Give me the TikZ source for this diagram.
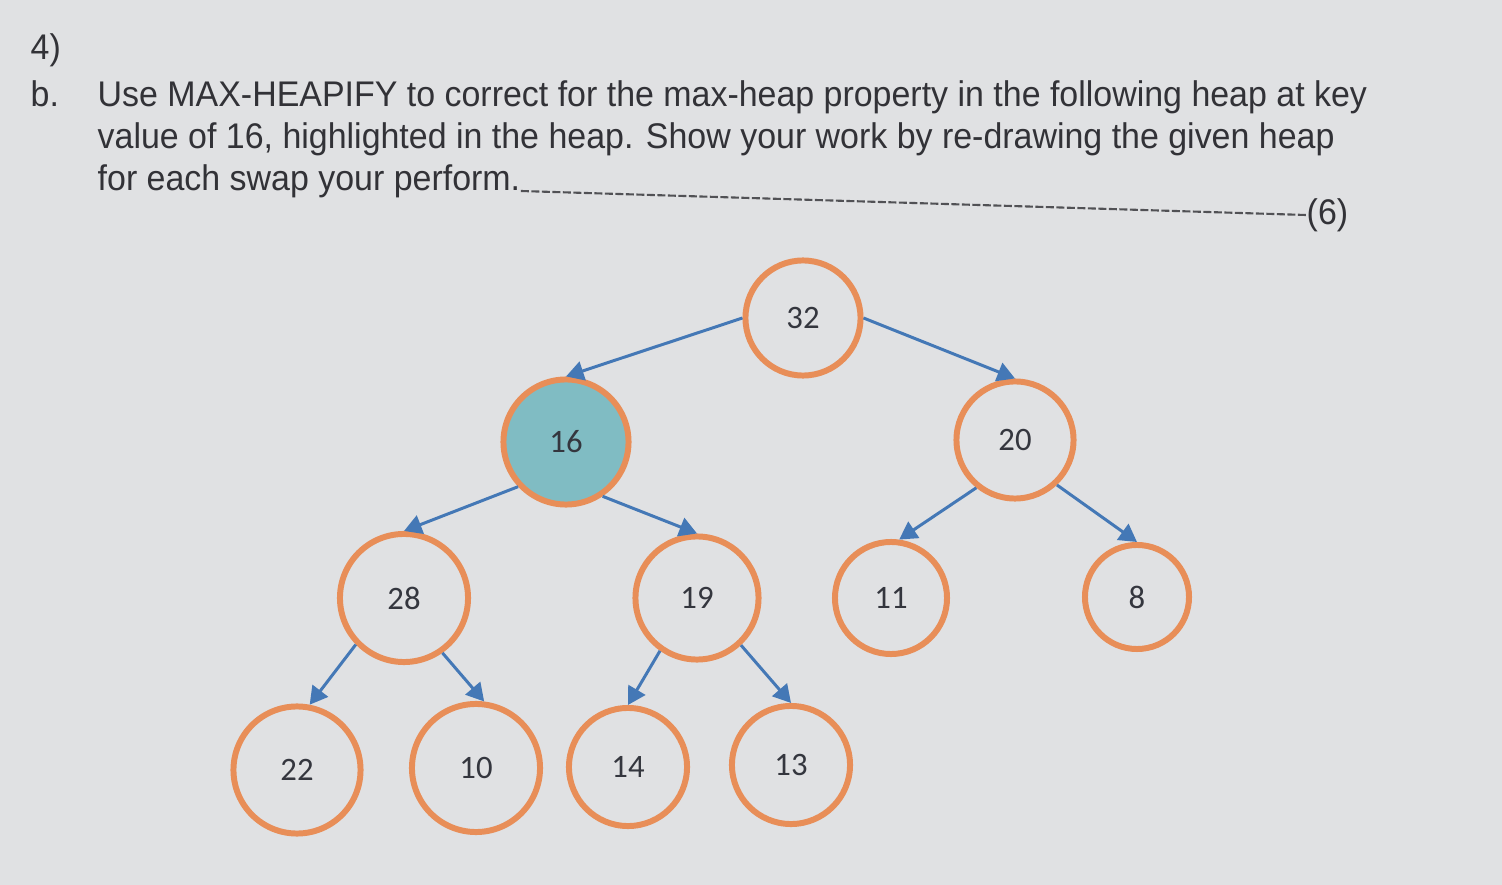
\documentclass[tikz,border=0pt]{standalone}
\usepackage{graphicx}
\usepackage{fontspec}
\setmainfont{Liberation Sans}
\newfontfamily\numfont{Carlito}
\usetikzlibrary{arrows.meta}
\definecolor{bgc}{RGB}{224,225,227}
\definecolor{ringc}{RGB}{232,142,88}
\definecolor{edgec}{RGB}{68,120,182}
\definecolor{tealc}{RGB}{128,188,195}
\definecolor{numc}{RGB}{52,54,62}
\definecolor{txtc}{RGB}{50,50,55}
\newcommand\tallbox[1]{\scalebox{1}[1.05]{#1}}
\begin{document}
\begin{tikzpicture}[x=0.01cm,y=-0.01cm,
  heapnode/.style={circle,draw=ringc,line width=1.7pt,inner sep=0pt,
    font=\numfont\fontsize{9.3}{10}\selectfont,text=numc},
  edge/.style={draw=edgec,line width=0.85pt,-{Triangle[length=5pt,width=5.5pt]}},
  qtext/.style={anchor=base west,inner sep=0pt,text=txtc,
    font=\fontsize{9.65}{10}\selectfont}]
\fill[bgc] (0,0) rectangle (1502,885);
\useasboundingbox (0,0) rectangle (1502,885);
% question text
\node[qtext] (q4) at (30,60) {\tallbox{4)}};
\node[qtext] (qb) at (30,107) {\tallbox{b.}};
\node[qtext] (l1) at (97,107) {\tallbox{Use MAX-HEAPIFY to correct for the max-heap property in the following heap at key}};
\node[qtext] (l2) at (97,149) {\tallbox{value of 16, highlighted in the heap. Show your work by re-drawing the given heap}};
\node[qtext] (l3) at (97,191) {\tallbox{for each swap your perform.}};
\node[qtext,anchor=west] (pts) at (1306,215) {\tallbox{(6)}};
\draw[txtc!85,line width=0.6pt,dash pattern=on 0.08cm off 0.025cm] (l3.base east) -- (pts.west);
% heap nodes
\node[heapnode,minimum size=1.15cm] (n32) at (803,318) {32};
\node[heapnode,minimum size=1.25cm,fill=tealc] (n16) at (566,442) {16};
\node[heapnode,minimum size=1.17cm] (n20) at (1015,440) {20};
\node[heapnode,minimum size=1.28cm] (n28) at (404,598) {28};
\node[heapnode,minimum size=1.23cm] (n19) at (697,598) {19};
\node[heapnode,minimum size=1.12cm] (n11) at (891,598) {11};
\node[heapnode,minimum size=1.04cm] (n8) at (1137,597) {8};
\node[heapnode,minimum size=1.27cm] (n22) at (297,770) {22};
\node[heapnode,minimum size=1.28cm] (n10) at (476,768) {10};
\node[heapnode,minimum size=1.18cm] (n14) at (628,767) {14};
\node[heapnode,minimum size=1.18cm] (n13) at (791,765) {13};
% edges
\draw[edge] (n32.west) -- (n16.north);
\draw[edge] (n32.east) -- (n20.north);
\draw[edge] (n16.223) -- (n28.north);
\draw[edge] (n16.304) -- (n19.north);
\draw[edge] (n20.231) -- (n11.82);
\draw[edge] (n20.313) -- (n8.north);
\draw[edge] (n28.224) -- (n22.79);
\draw[edge] (n28.305) -- (n10.83);
\draw[edge] (n19.235) -- (n14.north);
\draw[edge] (n19.313) -- (n13.north);
\end{tikzpicture}
\end{document}
